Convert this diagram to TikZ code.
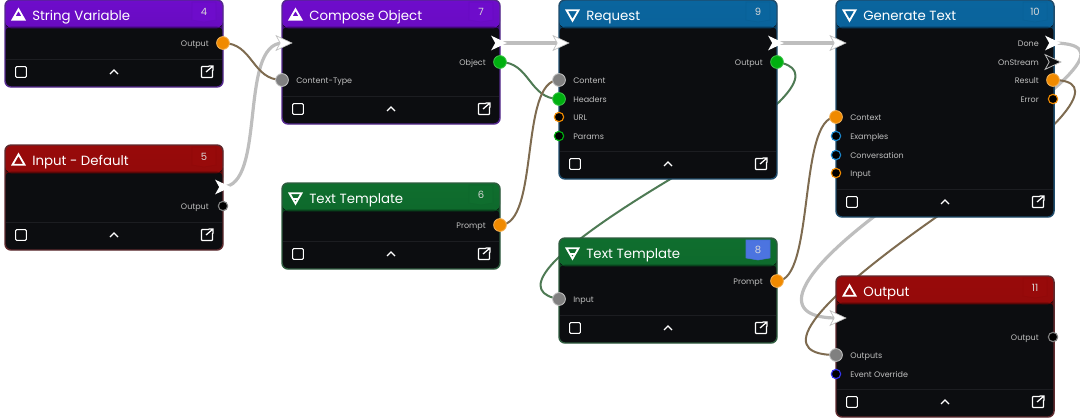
\documentclass[tikz,border=0pt]{standalone}
\usepackage{fontspec}
\setmainfont{Poppins}
\usepackage{xcolor}
\usepackage{tikz}
\usetikzlibrary{shapes.geometric,shapes.arrows,backgrounds}

\definecolor{body-dark}{HTML}{0C0D10}
\definecolor{rule-dark}{HTML}{1C1D21}
\definecolor{purple-edge}{HTML}{55298F}
\definecolor{purple-top}{HTML}{6E0CCB}
\definecolor{purple-bot}{HTML}{5B0AA8}
\definecolor{red-edge}{HTML}{5E2A2E}
\definecolor{red-top}{HTML}{980A0A}
\definecolor{red-bot}{HTML}{850808}
\definecolor{green-edge}{HTML}{2F5C3F}
\definecolor{green-top}{HTML}{0F6E2E}
\definecolor{green-bot}{HTML}{0C5F28}
\definecolor{blue-edge}{HTML}{1F4C6C}
\definecolor{blue-top}{HTML}{0A659E}
\definecolor{blue-bot}{HTML}{09568A}
\definecolor{badge-blue}{HTML}{4C74E0}
\definecolor{port-orange}{HTML}{F08A00}
\definecolor{port-green}{HTML}{00B010}
\definecolor{port-gray}{HTML}{808080}
\definecolor{port-blue}{HTML}{1A86CC}
\definecolor{port-indigo}{HTML}{3535F0}
\definecolor{wire-brown}{HTML}{7E6B50}
\definecolor{wire-green}{HTML}{4E7A54}
\definecolor{wire-gray}{HTML}{BEBEBE}

\tikzset{
    flow-box/.style = {rectangle, rounded corners=4.5pt, fill=body-dark, line width=1.1pt, anchor=north west, minimum width=163.5pt, inner sep=0pt, outer sep=0pt},
    title-text/.style = {text=white, font=\fontsize{10}{12}\selectfont, anchor=west, inner sep=0pt, text height=7.5pt, text depth=2.2pt},
    number-text/.style = {text=white!85!black, font=\fontsize{7.5}{9}\selectfont, inner sep=0pt},
    port-text/.style = {text=white!75!black, font=\fontsize{6}{7}\selectfont, inner sep=0pt, text height=4.6pt, text depth=1.2pt, yshift=-0.6pt},
    icon-up/.style = {regular polygon, regular polygon sides=3, draw=white, line width=1.35pt, minimum size=10.5pt, inner sep=0pt, yshift=-1pt},
    icon-down/.style = {icon-up, shape border rotate=180, yshift=2pt},
    icon-up-bar/.style = {icon-up, path picture={\fill[white] (path picture bounding box.south west) rectangle ([yshift=3pt]path picture bounding box.south east);}},
    icon-down-bar/.style = {icon-down, path picture={\fill[white] ([yshift=-3.6pt]path picture bounding box.north west) rectangle ([yshift=-5pt]path picture bounding box.north east);}},
    check-box/.style = {rectangle, draw=white, line width=0.85pt, rounded corners=0.8pt, minimum size=8pt, inner sep=0pt},
    foot-line/.style = {draw=white, line width=0.95pt},
    port-solid/.style = {circle, inner sep=0pt, minimum size=9.6pt, line width=0.6pt},
    port-hollow/.style = {circle, inner sep=0pt, minimum size=7pt, fill=black, line width=0.85pt},
    solid-orange/.style = {port-solid, fill=port-orange, draw=port-orange!65!white},
    solid-green/.style = {port-solid, fill=port-green, draw=port-green!75!white},
    solid-gray/.style = {port-solid, fill=port-gray, draw=port-gray!45!white},
    hollow-gray/.style = {port-hollow, draw=port-gray},
    hollow-orange/.style = {port-hollow, draw=port-orange},
    hollow-green/.style = {port-hollow, draw=port-green},
    hollow-blue/.style = {port-hollow, draw=port-blue},
    hollow-indigo/.style = {port-hollow, draw=port-indigo},
    exec-out/.style = {dart, fill=white, inner sep=0.6pt, minimum width=11pt, minimum height=11pt, dart tip angle=50, dart tail angle=125},
    exec-in/.style = {exec-out, draw=wire-gray, line width=0.5pt},
    exec-idle/.style = {exec-out, fill=body-dark, draw=white!75!black, line width=0.6pt},
    wire-data/.style = {line width=1.5pt},
    wire-exec/.style = {draw=wire-gray, line width=2.4pt},
}

% id, x, y, height, colour family, icon, title, number, badge fill
\newcommand{\flowblock}[9]{
\node[flow-box, draw=#5-edge, minimum height=#4*0.75pt, path picture={
    \shade[top color=#5-top, bottom color=#5-bot] (path picture bounding box.north west) rectangle ([yshift=-20.5pt]path picture bounding box.north east);
    \fill[#5-bot!70!black] ([yshift=-20pt]path picture bounding box.north west) rectangle ([yshift=-21.2pt]path picture bounding box.north east);
}] (#1) at (#2,#3) {};
\begin{scope}[shift={(#2,#3)}]
    \node[#6] (#1-icon) at (13.5,15) {};
    \node[title-text] (#1-title) at (27,16.5) {#7};
    \draw[draw=#9!95!black, fill=#9] (187,2) -- (211,2) -- (211,20) -- (199,22) -- (187,20) -- cycle;
    \node[number-text] (#1-number) at (199,12) {#8};
\end{scope}
\begin{scope}[shift={(#2,#3+#4)}]
    \draw[rule-dark, line width=0.6pt] (1,-28) -- (217,-28);
    \node[check-box] (#1-check) at (16,-15) {};
    \draw[foot-line] (105,-13) -- (109,-17) -- (113,-13);
    \draw[foot-line, rounded corners=0.6pt] (204,-20.5) -- (196.5,-20.5) -- (196.5,-9.5) -- (207.5,-9.5) -- (207.5,-17);
    \draw[foot-line] (201,-15) -- (208,-21) (203.5,-21) -- (208,-21) -- (208,-16.5);
\end{scope}
}
% id, port style, x, y, label
\newcommand{\portout}[5]{
\node[#2] (#1) at (#3,#4) {};
\node[port-text, anchor=east] (#1-text) at (#3-14,#4) {#5};
}
\newcommand{\portin}[5]{
\node[#2] (#1) at (#3,#4) {};
\node[port-text, anchor=west] (#1-text) at (#3+14,#4) {#5};
}

\begin{document}
\begin{tikzpicture}[x=0.75pt,y=-0.75pt]
\useasboundingbox (0,0) rectangle (1080,418);

\flowblock{string}{5}{0}{87}{purple}{icon-up-bar}{String Variable}{4}{purple-top}
\flowblock{input}{5}{145}{105}{red}{icon-up}{Input - Default}{5}{red-top}
\flowblock{compose}{282}{0}{124}{purple}{icon-up-bar}{Compose Object}{7}{purple-top}
\flowblock{templateA}{282}{183}{86}{green}{icon-down-bar}{Text Template}{6}{green-top}
\flowblock{request}{559}{0}{179}{blue}{icon-down}{Request}{9}{blue-top}
\flowblock{templateB}{559}{238}{105}{green}{icon-down-bar}{Text Template}{8}{badge-blue}
\flowblock{generate}{836}{0}{217}{blue}{icon-down}{Generate Text}{10}{blue-top}
\flowblock{output}{836}{276}{141}{red}{icon-up}{Output}{11}{red-top}

\portout{string-out}{solid-orange}{223}{43}{Output}

\node[exec-out] (input-exec) at (222,187) {};
\portout{input-out}{hollow-gray}{223}{206}{Output}

\node[exec-in] (compose-in) at (283,43) {};
\node[exec-out] (compose-exec) at (498,43) {};
\portout{compose-out}{solid-green}{500}{62}{Object}
\portin{compose-type}{solid-gray}{282}{80}{Content-Type}

\portout{templateA-out}{solid-orange}{500}{225}{Prompt}

\node[exec-in] (request-in) at (560,43) {};
\node[exec-out] (request-exec) at (775,43) {};
\portout{request-out}{solid-green}{777}{62}{Output}
\portin{request-content}{solid-gray}{559}{80}{Content}
\portin{request-headers}{solid-green}{559}{99}{Headers}
\portin{request-url}{hollow-orange}{559}{117}{URL}
\portin{request-params}{hollow-green}{559}{136}{Params}

\portout{templateB-out}{solid-orange}{777}{281}{Prompt}
\portin{templateB-in}{solid-gray}{559}{299}{Input}

\node[exec-in] (generate-in) at (837,43) {};
\node[exec-out] (generate-done) at (1052,43) {};
\node[port-text, anchor=east] (generate-done-text) at (1039,43) {Done};
\node[exec-idle] (generate-stream) at (1052,62) {};
\node[port-text, anchor=east] (generate-stream-text) at (1039,62) {OnStream};
\portout{generate-result}{solid-orange}{1053}{80}{Result}
\portout{generate-error}{hollow-orange}{1053}{99}{Error}
\portin{generate-context}{solid-orange}{836}{117}{Context}
\portin{generate-examples}{hollow-blue}{836}{136}{Examples}
\portin{generate-history}{hollow-blue}{836}{155}{Conversation}
\portin{generate-input}{hollow-orange}{836}{173}{Input}

\node[exec-in] (output-in) at (837,318) {};
\portout{output-out}{hollow-gray}{1053}{337}{Output}
\portin{output-values}{solid-gray}{836}{355}{Outputs}
\portin{output-event}{hollow-indigo}{836}{374}{Event Override}

% bends of the long wires, hidden behind the blocks
\coordinate (request-bend) at (668,180.5);
\coordinate (done-bend) at (945,167);
\coordinate (result-bend) at (945,211);

% wires stay behind the blocks
\begin{scope}[on background layer]
\draw[wire-exec] (input-exec.center) .. controls +(45,0) and +(-45,0) .. (compose-in.center);
\draw[wire-exec] (compose-exec.center) -- (request-in.center);
\draw[wire-exec] (request-exec.center) -- (generate-in.center);
\draw[wire-exec] (generate-done.center) .. controls +(55,0) and +(145,-95) .. (done-bend) .. controls +(-150,97) and +(-68,0) .. (output-in.center);
\draw[wire-data, wire-brown] (string-out.center) .. controls +(30,0) and +(-30,0) .. (compose-type.center);
\draw[wire-data, wire-green] (compose-out.center) .. controls +(30,0) and +(-30,0) .. (request-headers.center);
\draw[wire-data, wire-brown] (templateA-out.center) .. controls +(40,0) and +(-40,0) .. (request-content.center);
\draw[wire-data, wire-green] (request-out.center) .. controls +(36,6) and +(138,-83) .. (request-bend) .. controls +(-138,83) and +(-36,-6) .. (templateB-in.center);
\draw[wire-data, wire-brown] (templateB-out.center) .. controls +(38,0) and +(-38,0) .. (generate-context.center);
\draw[wire-data, wire-brown] (generate-result.center) .. controls +(45,0) and +(135,-94) .. (result-bend) .. controls +(-160,111) and +(-51,0) .. (output-values.center);
\end{scope}
\end{tikzpicture}
\end{document}
